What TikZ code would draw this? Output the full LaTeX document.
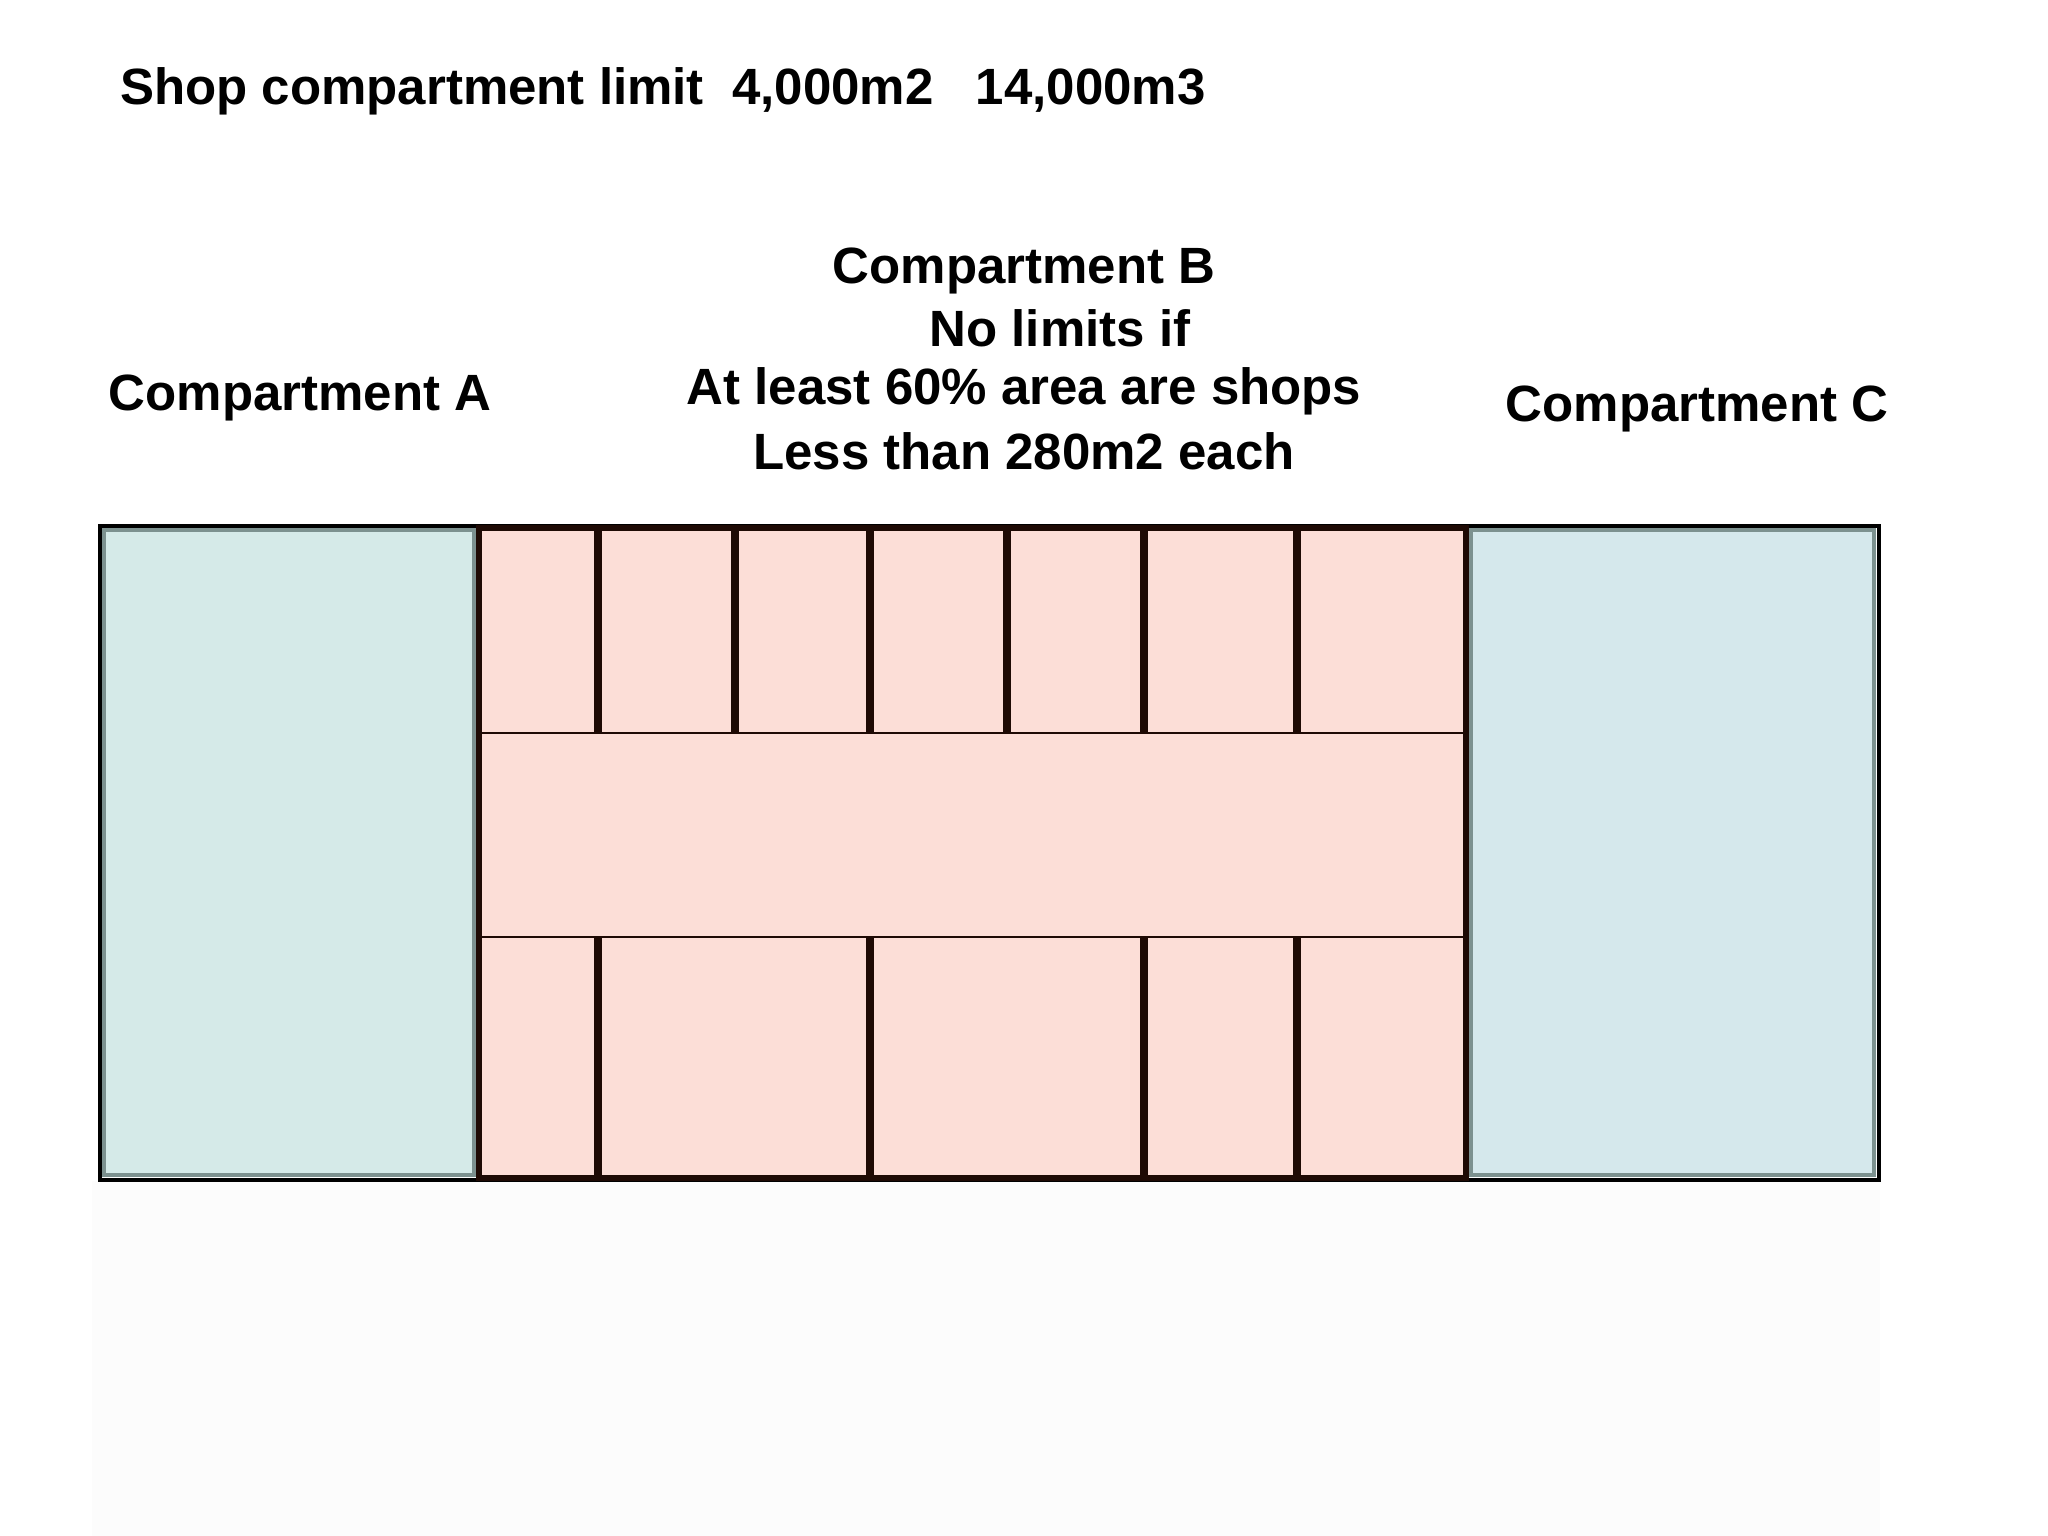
\documentclass[tikz,border=0pt]{standalone}
\usepackage{fontspec}
\setmainfont{Liberation Sans}
\definecolor{cyanA}{HTML}{D5EAE8}
\definecolor{blueC}{HTML}{D5E8EC}
\definecolor{grayedge}{HTML}{7C918F}
\definecolor{pinkB}{HTML}{FCDED7}
\definecolor{brownedge}{HTML}{1E0A04}
\definecolor{faint}{HTML}{FCFCFC}
\tikzset{
  lbl/.style={font=\fontsize{14.5}{17.5}\selectfont\bfseries, inner sep=0pt, anchor=center},
  comp/.style={draw=grayedge, line width=1.1pt},
  shopwall/.style={draw=brownedge, line width=2.3pt},
  corridor/.style={draw=brownedge, line width=0.7pt}
}
\begin{document}
\begin{tikzpicture}[x=0.01cm,y=-0.01cm]
\useasboundingbox (0,0) rectangle (2048,1536);
\fill[white] (0,0) rectangle (2048,1536);
\fill[faint] (92,1181) rectangle (1880,1536);
% outer frame
\draw[black, line width=1.4pt] (100,526) rectangle (1879,1180);
% compartments A and C
\filldraw[comp, fill=cyanA] (104,530) rectangle (474,1175);
\filldraw[comp, fill=blueC] (1471,530) rectangle (1874,1175);
% compartment B
\filldraw[fill=pinkB, draw=brownedge, line width=1.7pt] (479,528) rectangle (1466,1178);
\draw[corridor] (479,733) -- (1466,733);
\draw[corridor] (479,937) -- (1466,937);
\foreach \xx in {598,735,870,1007,1144,1297}
  \draw[shopwall] (\xx,528) -- (\xx,733);
\foreach \xx in {598,870,1144,1297}
  \draw[shopwall] (\xx,937) -- (\xx,1178);
% texts
\node[lbl] (title) at (663,91) {Shop compartment limit\ \ 4,000m2\ \ \ 14,000m3};
\node[lbl] (ca) at (300,398) {Compartment A};
\node[lbl] (cc) at (1697,409) {Compartment C};
\node[lbl] (cb1) at (1024,271) {Compartment B};
\node[lbl] (cb2) at (1060,328) {No limits if};
\node[lbl] (cb3) at (1024,391) {At least 60\% area are shops};
\node[lbl] (cb4) at (1024,451) {Less than 280m2 each};
\end{tikzpicture}
\end{document}
